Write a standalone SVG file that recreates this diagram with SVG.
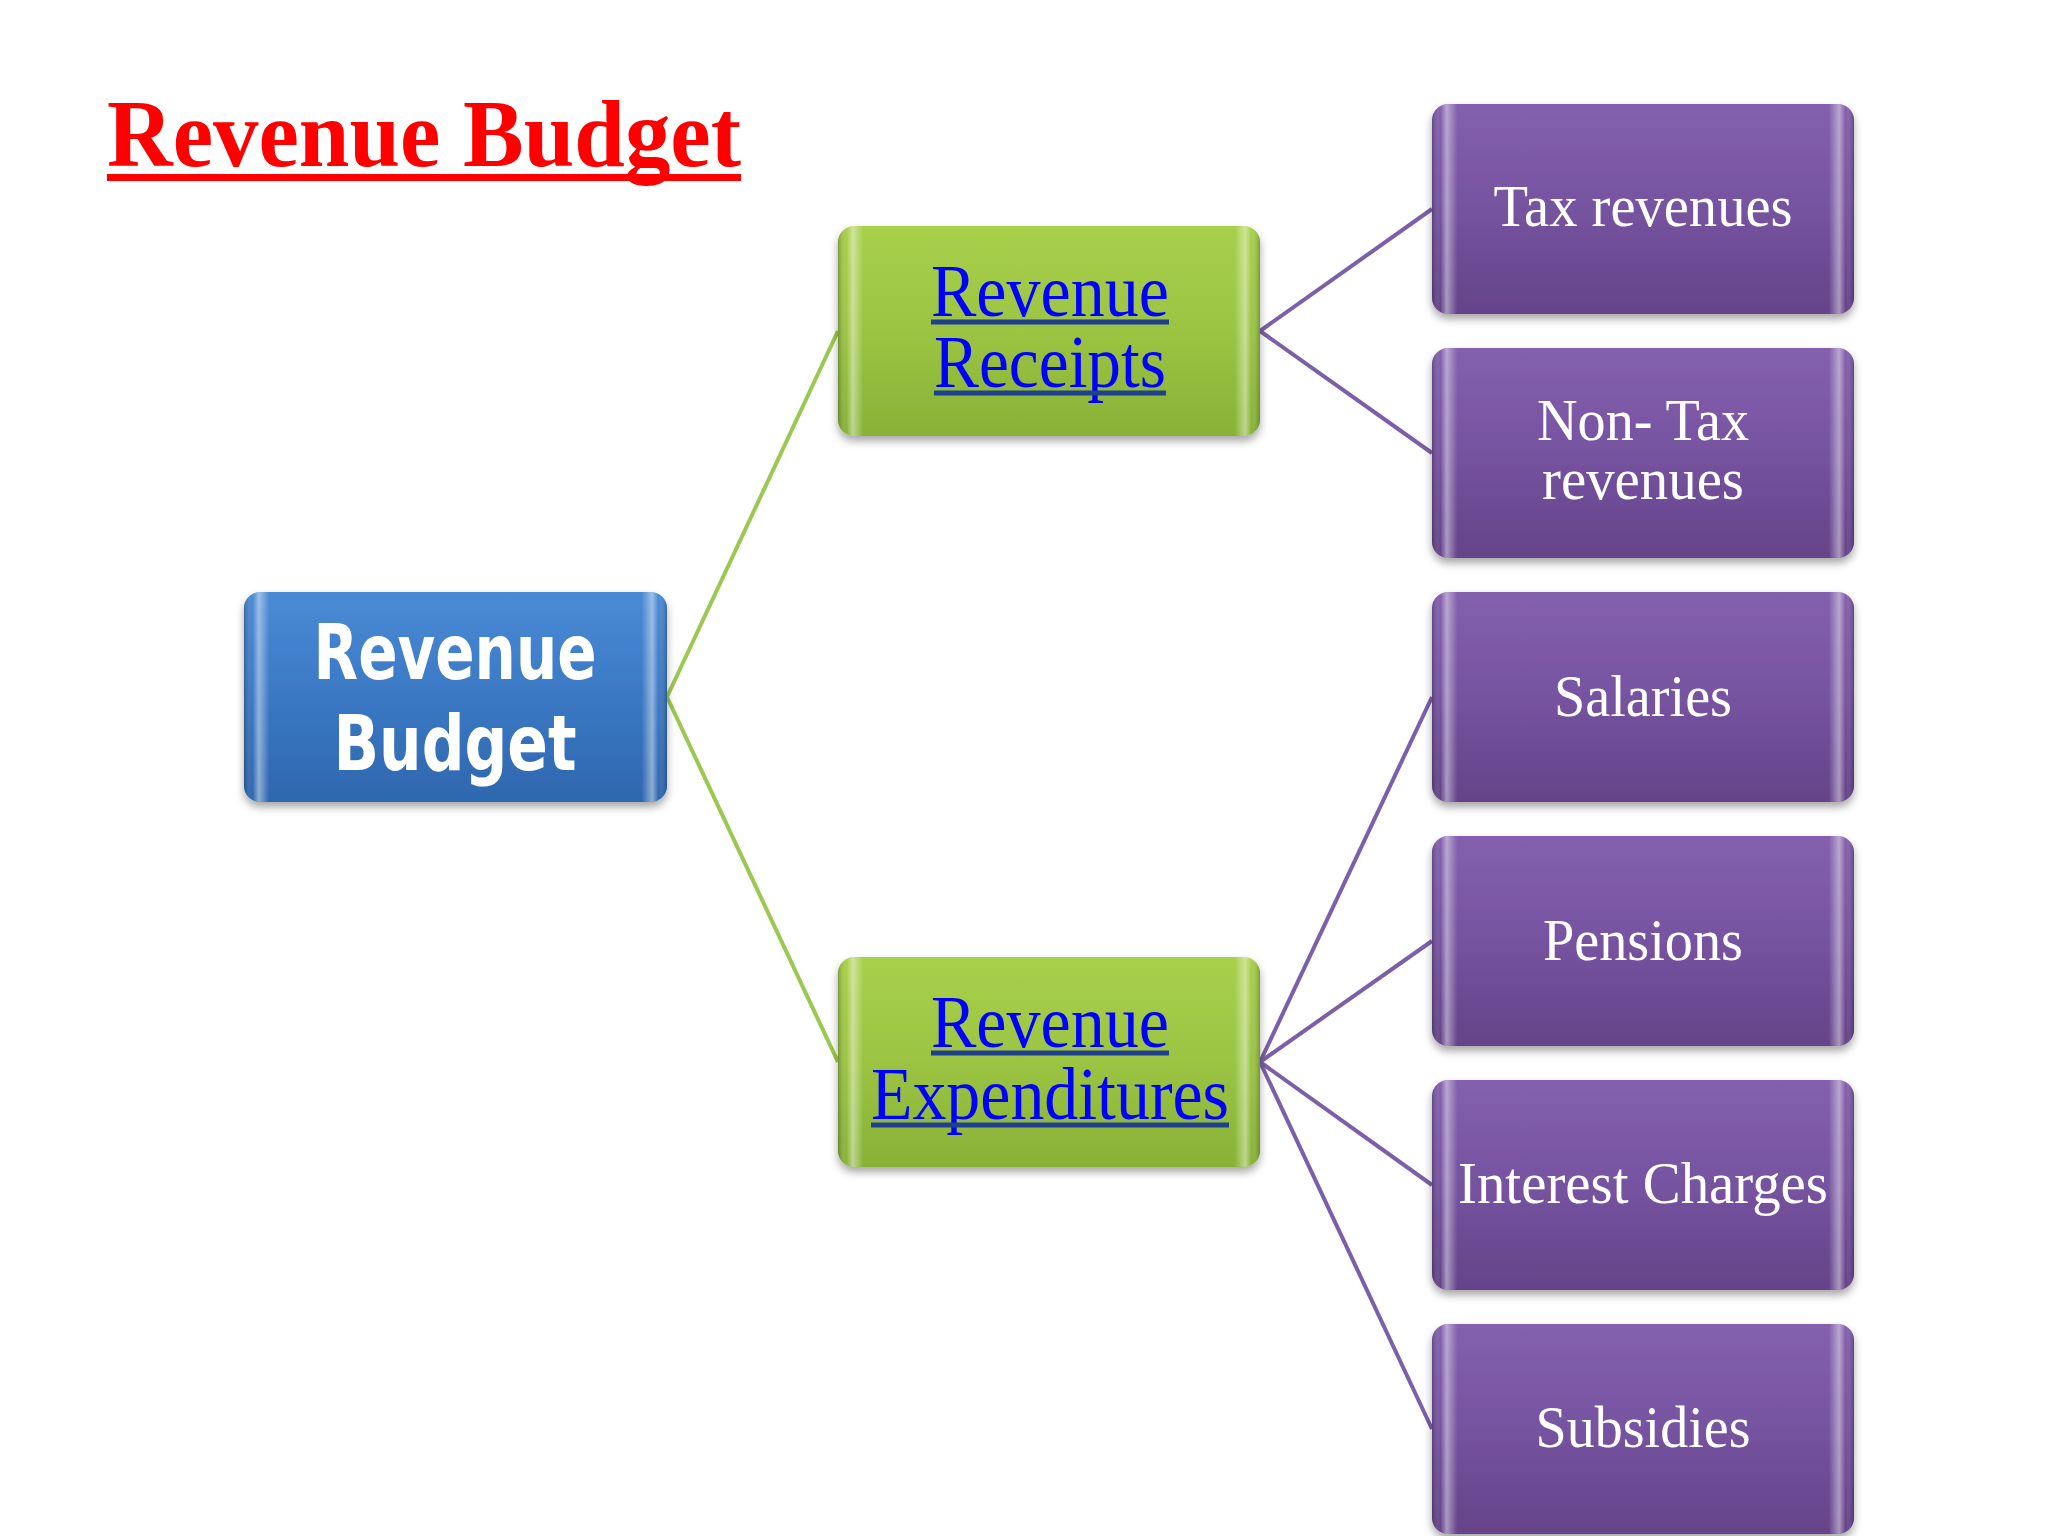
<svg xmlns="http://www.w3.org/2000/svg" width="2048" height="1536" viewBox="0 0 2048 1536">
<defs>
<linearGradient id="gBlue" x1="0" y1="0" x2="0" y2="1">
<stop offset="0" stop-color="#4a8bd6"/><stop offset="0.5" stop-color="#3b78c4"/><stop offset="1" stop-color="#2e67ae"/>
</linearGradient>
<linearGradient id="gGreen" x1="0" y1="0" x2="0" y2="1">
<stop offset="0" stop-color="#a8d04a"/><stop offset="0.5" stop-color="#9bc443"/><stop offset="1" stop-color="#88b236"/>
</linearGradient>
<linearGradient id="gPurple" x1="0" y1="0" x2="0" y2="1">
<stop offset="0" stop-color="#8460ae"/><stop offset="0.5" stop-color="#7653a0"/><stop offset="1" stop-color="#654389"/>
</linearGradient>
<linearGradient id="gEdge" x1="0" y1="0" x2="1" y2="0">
<stop offset="0" stop-color="#000" stop-opacity="0.25"/>
<stop offset="0.02" stop-color="#fff" stop-opacity="0"/>
<stop offset="0.035" stop-color="#fff" stop-opacity="0.45"/>
<stop offset="0.06" stop-color="#fff" stop-opacity="0"/>
<stop offset="0.94" stop-color="#fff" stop-opacity="0"/>
<stop offset="0.965" stop-color="#fff" stop-opacity="0.45"/>
<stop offset="0.98" stop-color="#fff" stop-opacity="0"/>
<stop offset="1" stop-color="#000" stop-opacity="0.25"/>
</linearGradient>
<filter id="sh" x="-10%" y="-10%" width="120%" height="130%">
<feDropShadow dx="0" dy="5" stdDeviation="4" flood-color="#000" flood-opacity="0.35"/>
</filter>
</defs>
<style>
.title{font-family:"Liberation Serif","Times New Roman",serif;font-weight:bold;font-size:96px;fill:#ff0000}
.comic{font-family:"Comic Sans MS","DejaVu Sans",sans-serif;font-weight:bold;font-size:76px;fill:#ffffff;text-anchor:middle}
.link{font-family:"Liberation Serif","Times New Roman",serif;font-size:74px;fill:#0000ff;text-anchor:middle}
.leaf{font-family:"Liberation Serif","Times New Roman",serif;font-size:60px;fill:#ffffff;text-anchor:middle}
.ul{stroke:#1f3f8f;stroke-width:5}
.cg{stroke:#9bc850;stroke-width:4;fill:none}
.cp{stroke:#7b5fa8;stroke-width:4;fill:none}
.edge{fill:url(#gEdge)}
</style>
<rect width="2048" height="1536" fill="#ffffff"/>

<g id="title">
<text class="title" x="107" y="166" textLength="634" lengthAdjust="spacingAndGlyphs">Revenue Budget</text>
<rect x="107" y="174" width="634" height="7" fill="#ff0000"/>
</g>

<g id="connectors">
<line class="cg" x1="667" y1="697" x2="838" y2="331"/>
<line class="cg" x1="667" y1="697" x2="838" y2="1062"/>
<line class="cp" x1="1260" y1="331" x2="1432" y2="209"/>
<line class="cp" x1="1260" y1="331" x2="1432" y2="453"/>
<line class="cp" x1="1260" y1="1062" x2="1432" y2="697"/>
<line class="cp" x1="1260" y1="1062" x2="1432" y2="941"/>
<line class="cp" x1="1260" y1="1062" x2="1432" y2="1185"/>
<line class="cp" x1="1260" y1="1062" x2="1432" y2="1429"/>
</g>

<g id="node-revenue-budget">
<rect x="244" y="592" width="423" height="210" rx="16" fill="url(#gBlue)" filter="url(#sh)"/>
<rect class="edge" x="244" y="592" width="423" height="210" rx="16"/>
<text class="comic" x="455" y="679" textLength="283" lengthAdjust="spacingAndGlyphs">Revenue</text>
<text class="comic" x="455" y="770" textLength="243" lengthAdjust="spacingAndGlyphs">Budget</text>
</g>

<g id="node-revenue-receipts">
<rect x="838" y="226" width="422" height="210" rx="16" fill="url(#gGreen)" filter="url(#sh)"/>
<rect class="edge" x="838" y="226" width="422" height="210" rx="16"/>
<text class="link" x="1050" y="316" textLength="238" lengthAdjust="spacingAndGlyphs">Revenue</text>
<line class="ul" x1="931" y1="322" x2="1169" y2="322"/>
<text class="link" x="1050" y="387" textLength="232" lengthAdjust="spacingAndGlyphs">Receipts</text>
<line class="ul" x1="934" y1="393" x2="1166" y2="393"/>
</g>

<g id="node-revenue-expenditures">
<rect x="838" y="957" width="422" height="210" rx="16" fill="url(#gGreen)" filter="url(#sh)"/>
<rect class="edge" x="838" y="957" width="422" height="210" rx="16"/>
<text class="link" x="1050" y="1047" textLength="238" lengthAdjust="spacingAndGlyphs">Revenue</text>
<line class="ul" x1="931" y1="1053" x2="1169" y2="1053"/>
<text class="link" x="1050" y="1119" textLength="358" lengthAdjust="spacingAndGlyphs">Expenditures</text>
<line class="ul" x1="871" y1="1125" x2="1229" y2="1125"/>
</g>

<g id="node-tax-revenues">
<rect x="1432" y="104" width="422" height="210" rx="16" fill="url(#gPurple)" filter="url(#sh)"/>
<rect class="edge" x="1432" y="104" width="422" height="210" rx="16"/>
<text class="leaf" x="1643" y="226" textLength="299" lengthAdjust="spacingAndGlyphs">Tax revenues</text>
</g>

<g id="node-non-tax-revenues">
<rect x="1432" y="348" width="422" height="210" rx="16" fill="url(#gPurple)" filter="url(#sh)"/>
<rect class="edge" x="1432" y="348" width="422" height="210" rx="16"/>
<text class="leaf" x="1643" y="440" textLength="212" lengthAdjust="spacingAndGlyphs">Non- Tax</text>
<text class="leaf" x="1643" y="499" textLength="202" lengthAdjust="spacingAndGlyphs">revenues</text>
</g>

<g id="node-salaries">
<rect x="1432" y="592" width="422" height="210" rx="16" fill="url(#gPurple)" filter="url(#sh)"/>
<rect class="edge" x="1432" y="592" width="422" height="210" rx="16"/>
<text class="leaf" x="1643" y="716" textLength="178" lengthAdjust="spacingAndGlyphs">Salaries</text>
</g>

<g id="node-pensions">
<rect x="1432" y="836" width="422" height="210" rx="16" fill="url(#gPurple)" filter="url(#sh)"/>
<rect class="edge" x="1432" y="836" width="422" height="210" rx="16"/>
<text class="leaf" x="1643" y="960" textLength="200" lengthAdjust="spacingAndGlyphs">Pensions</text>
</g>

<g id="node-interest-charges">
<rect x="1432" y="1080" width="422" height="210" rx="16" fill="url(#gPurple)" filter="url(#sh)"/>
<rect class="edge" x="1432" y="1080" width="422" height="210" rx="16"/>
<text class="leaf" x="1643" y="1203" textLength="370" lengthAdjust="spacingAndGlyphs">Interest Charges</text>
</g>

<g id="node-subsidies">
<rect x="1432" y="1324" width="422" height="210" rx="16" fill="url(#gPurple)" filter="url(#sh)"/>
<rect class="edge" x="1432" y="1324" width="422" height="210" rx="16"/>
<text class="leaf" x="1643" y="1447" textLength="215" lengthAdjust="spacingAndGlyphs">Subsidies</text>
</g>
</svg>
